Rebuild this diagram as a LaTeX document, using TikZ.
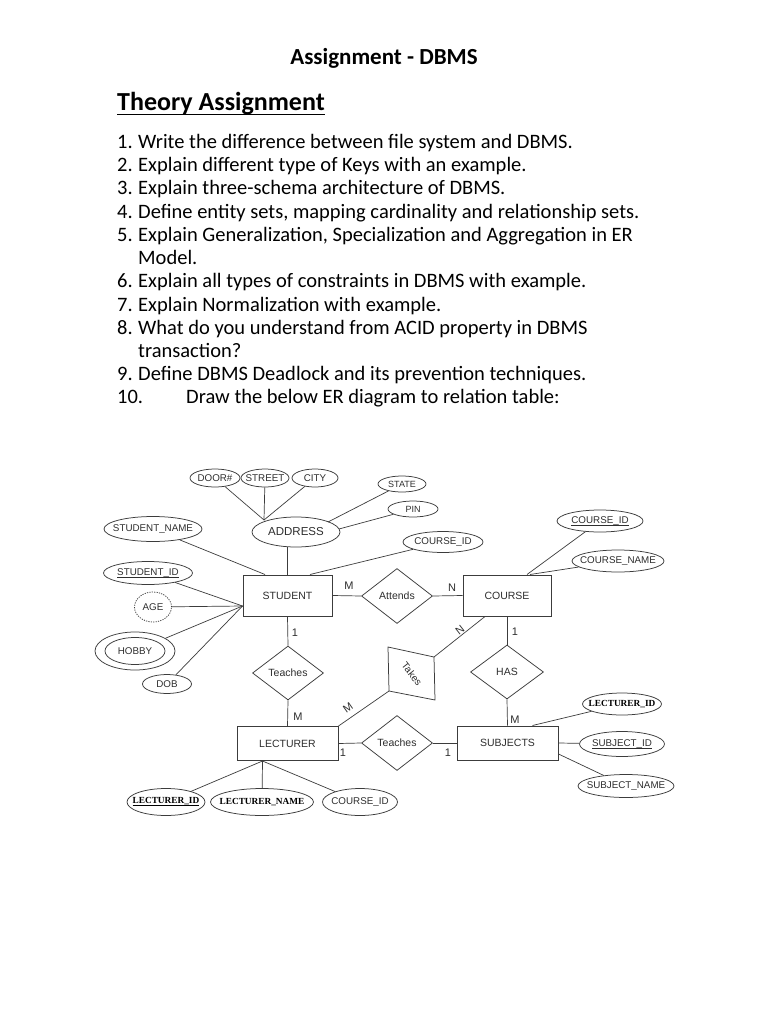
\documentclass[tikz,border=0pt]{standalone}
\usepackage{fontspec}
\setmainfont{Carlito}
\newfontfamily\arialf{Liberation Sans}
\newfontfamily\timesf{Liberation Serif}
\usetikzlibrary{shapes.geometric}
\newsavebox\ulbox
\newcommand\keyul[1]{\sbox\ulbox{#1}\rlap{\rule[-2.8pt]{\wd\ulbox}{1.2pt}}\usebox\ulbox}
\definecolor{lc}{HTML}{3C3C3C}
\definecolor{tc}{HTML}{2E2E2E}
\begin{document}
\begin{tikzpicture}[x=1pt,y=-1pt,
 every node/.style={inner sep=0pt},
 li/.style={anchor=base west, font=\fontsize{20.5}{24}\selectfont},
 attr/.style={ellipse, draw=lc, line width=0.75pt, inner xsep=-40pt, inner ysep=-10pt, text=tc, font=\arialf\fontsize{9.8}{12}\selectfont},
 battr/.style={attr, font=\timesf\bfseries\fontsize{9.3}{11}\selectfont, text=black},
 ent/.style={rectangle, draw=lc, line width=1pt, text=tc, font=\arialf\fontsize{10.5}{12}\selectfont},
 rel/.style={diamond, draw=lc, line width=0.75pt, inner xsep=-20pt, inner ysep=-10pt, text=tc, font=\arialf\fontsize{10.5}{12}\selectfont},
 card/.style={text=tc, font=\arialf\fontsize{11}{12}\selectfont},
 conn/.style={draw=lc, line width=0.7pt}]
\fill[white] (0,0) rectangle (768,1024);
\useasboundingbox (0,0) rectangle (768,1024);

% ---------- header ----------
\node[anchor=base, font=\bfseries\fontsize{23}{28}\selectfont] (title) at (384,65) {Assignment - DBMS};
\node[anchor=base west, font=\bfseries\fontsize{26}{30}\selectfont] (theory) at (117,111) {Theory Assignment};
\draw[line width=1.6pt] ([yshift=-3.6pt]theory.base west) -- ([yshift=-3.6pt]theory.base east);

% ---------- list ----------
\node[li] (n1) at (117,148.6) {1.};
\node[li] (t1) at (138,148.6) {Write the difference between file system and DBMS.};
\node[li] (n2) at (117,171.8) {2.};
\node[li] (t2) at (138,171.8) {Explain different type of Keys with an example.};
\node[li] (n3) at (117,195.0) {3.};
\node[li] (t3) at (138,195.0) {Explain three-schema architecture of DBMS.};
\node[li] (n4) at (117,218.2) {4.};
\node[li] (t4) at (138,218.2) {Define entity sets, mapping cardinality and relationship sets.};
\node[li] (n5) at (117,241.4) {5.};
\node[li] (t5) at (138,241.4) {Explain Generalization, Specialization and Aggregation in ER};
\node[li] (t5b) at (138,264.6) {Model.};
\node[li] (n6) at (117,287.8) {6.};
\node[li] (t6) at (138,287.8) {Explain all types of constraints in DBMS with example.};
\node[li] (n7) at (117,311.0) {7.};
\node[li] (t7) at (138,311.0) {Explain Normalization with example.};
\node[li] (n8) at (117,334.2) {8.};
\node[li] (t8) at (138,334.2) {What do you understand from ACID property in DBMS};
\node[li] (t8b) at (138,357.4) {transaction?};
\node[li] (n9) at (117,380.6) {9.};
\node[li] (t9) at (138,380.6) {Define DBMS Deadlock and its prevention techniques.};
\node[li] (n10) at (117,403.8) {10.};
\node[li] (t10) at (186,403.8) {Draw the below ER diagram to relation table:};

% ---------- entities ----------
\node[ent, minimum width=89, minimum height=41] (student) at (287.5,595.5) {STUDENT};
\node[ent, minimum width=88, minimum height=41] (course) at (507,595.5) {COURSE};
\node[ent, minimum width=101, minimum height=34] (lecturer) at (287.5,743.5) {LECTURER};
\node[ent, minimum width=101, minimum height=34] (subjects) at (507.5,743) {SUBJECTS};

% ---------- relationships ----------
\node[rel, minimum width=71, minimum height=55] (attends) at (397,596) {Attends};
\node[rel, minimum width=71, minimum height=54] (teachA) at (288,673) {Teaches};
\node[rel, minimum width=73, minimum height=54] (has) at (507,672) {HAS};
\node[rel, minimum width=71, minimum height=55] (teachB) at (397,743) {Teaches};

% Takes (skewed box)
\coordinate (tTL) at (388,647);
\coordinate (tTR) at (434,657);
\coordinate (tBR) at (435,700);
\coordinate (tBL) at (389,691);
\draw[lc, line width=0.75pt] (tTL) -- (tTR) -- (tBR) -- (tBL) -- cycle;
\node[rotate=-52, text=tc, font=\arialf\fontsize{10}{12}\selectfont] (takes) at (412,674) {Takes};

% ---------- attributes ----------
\node[attr, minimum width=50, minimum height=18] (door) at (215,478) {DOOR\#};
\node[attr, minimum width=48, minimum height=18] (street) at (265,478) {STREET};
\node[attr, minimum width=46, minimum height=18] (city) at (315,478) {CITY};
\node[attr, minimum width=48, minimum height=16, font=\arialf\fontsize{9}{11}\selectfont] (state) at (402,484) {STATE};
\node[attr, minimum width=50, minimum height=16, font=\arialf\fontsize{9}{11}\selectfont] (pin) at (413,509) {PIN};
\node[attr, minimum width=88, minimum height=30, font=\arialf\fontsize{11.5}{13}\selectfont] (address) at (296,532) {ADDRESS};
\node[attr, minimum width=98, minimum height=25] (sname) at (153,529) {STUDENT\_NAME};
\node[attr, minimum width=80, minimum height=21] (cidm) at (443,542) {COURSE\_ID};
\node[attr, minimum width=86, minimum height=22] (cidr) at (600,521) {\keyul{COURSE\_ID}};
\node[attr, minimum width=92, minimum height=22] (cname) at (618,561) {COURSE\_NAME};
\node[attr, minimum width=89, minimum height=23] (sid) at (148,573) {\keyul{STUDENT\_ID}};
\node[attr, dash pattern=on 1.2pt off 1.2pt, minimum width=37, minimum height=30] (age) at (153,607) {AGE};
\node[attr, minimum width=80, minimum height=38] (hobby) at (135,651) {HOBBY};
\draw[lc, line width=0.75pt] (hobby.center) ellipse [x radius=30, y radius=13.5];
\node[attr, minimum width=49, minimum height=19] (dob) at (167,684) {DOB};
\node[battr, minimum width=79, minimum height=22] (lid2) at (622,704) {LECTURER\_ID};
\node[attr, minimum width=85, minimum height=25] (subid) at (622,744) {\keyul{SUBJECT\_ID}};
\node[attr, minimum width=96, minimum height=23] (subname) at (626,786) {SUBJECT\_NAME};
\node[battr, minimum width=78, minimum height=27] (lid1) at (166,802) {\keyul{LECTURER\_ID}};
\node[battr, minimum width=103, minimum height=27] (lname) at (262,802) {LECTURER\_NAME};
\node[attr, minimum width=75, minimum height=27] (cidb) at (360,802) {COURSE\_ID};

% ---------- connection points ----------
\coordinate (adrtop) at (264,520);
\coordinate (adrR1) at (328,522);
\coordinate (adrR2) at (339,529);
\coordinate (stL) at ([yshift=-10.5pt]student.west);
\coordinate (lecB) at ([xshift=-25pt]lecturer.south);

% ---------- connectors ----------
\draw[conn] (door) -- (adrtop);
\draw[conn] (street) -- (adrtop);
\draw[conn] (city) -- (adrtop);
\draw[conn] (state) -- (adrR1);
\draw[conn] (pin) -- (adrR2);
\draw[conn] (student.north) -- (student.north |- address.south);
\draw[conn] (sname) -- ([xshift=-22.5pt]student.north);
\draw[conn] (cidm) -- ([xshift=22.5pt]student.north);
\draw[conn] (sid) -- (stL);
\draw[conn] (age) -- (stL);
\draw[conn] (hobby) -- (stL);
\draw[conn] (dob) -- (stL);
\draw[conn] (student.east) -- (attends.west);
\draw[conn] (attends.east) -- (course.west);
\draw[conn] (cidr) -- ([xshift=20pt]course.north);
\draw[conn] (cname) -- ([xshift=23pt]course.north);
\draw[conn] (student.south) -- (teachA.north);
\draw[conn] (teachA.south) -- (lecturer.north);
\draw[conn] (course.south) -- (has.north);
\draw[conn] (has.south) -- (subjects.north);
\draw[conn] ([xshift=-22pt]course.south) -- (tTR);
\draw[conn] (tBL) -- (lecturer.north east);
\draw[conn] (lecturer.east) -- (teachB.west);
\draw[conn] (teachB.east) -- (subjects.west);
\draw[conn] (lid2) -- ([xshift=25pt]subjects.north);
\draw[conn] (subid) -- (subjects.east);
\draw[conn] (subname) -- ([yshift=-11pt]subjects.east);
\draw[conn] (lecB) -- (lid1);
\draw[conn] (lecB) -- (lname);
\draw[conn] (lecB) -- (cidb);

% ---------- cardinalities ----------
\node[card] (cM1) at (349,586) {M};
\node[card] (cN1) at (452,588) {N};
\node[card] (c11) at (295,633) {1};
\node[card] (cM2) at (298,717) {M};
\node[card] (c12) at (515,632) {1};
\node[card] (cM3) at (515,720) {M};
\node[card] (c13) at (343,753) {1};
\node[card] (c14) at (448,753) {1};
\node[card, rotate=38] (cN2) at (460,630) {N};
\node[card, rotate=35] (cM4) at (348,708) {M};
\end{tikzpicture}
\end{document}
